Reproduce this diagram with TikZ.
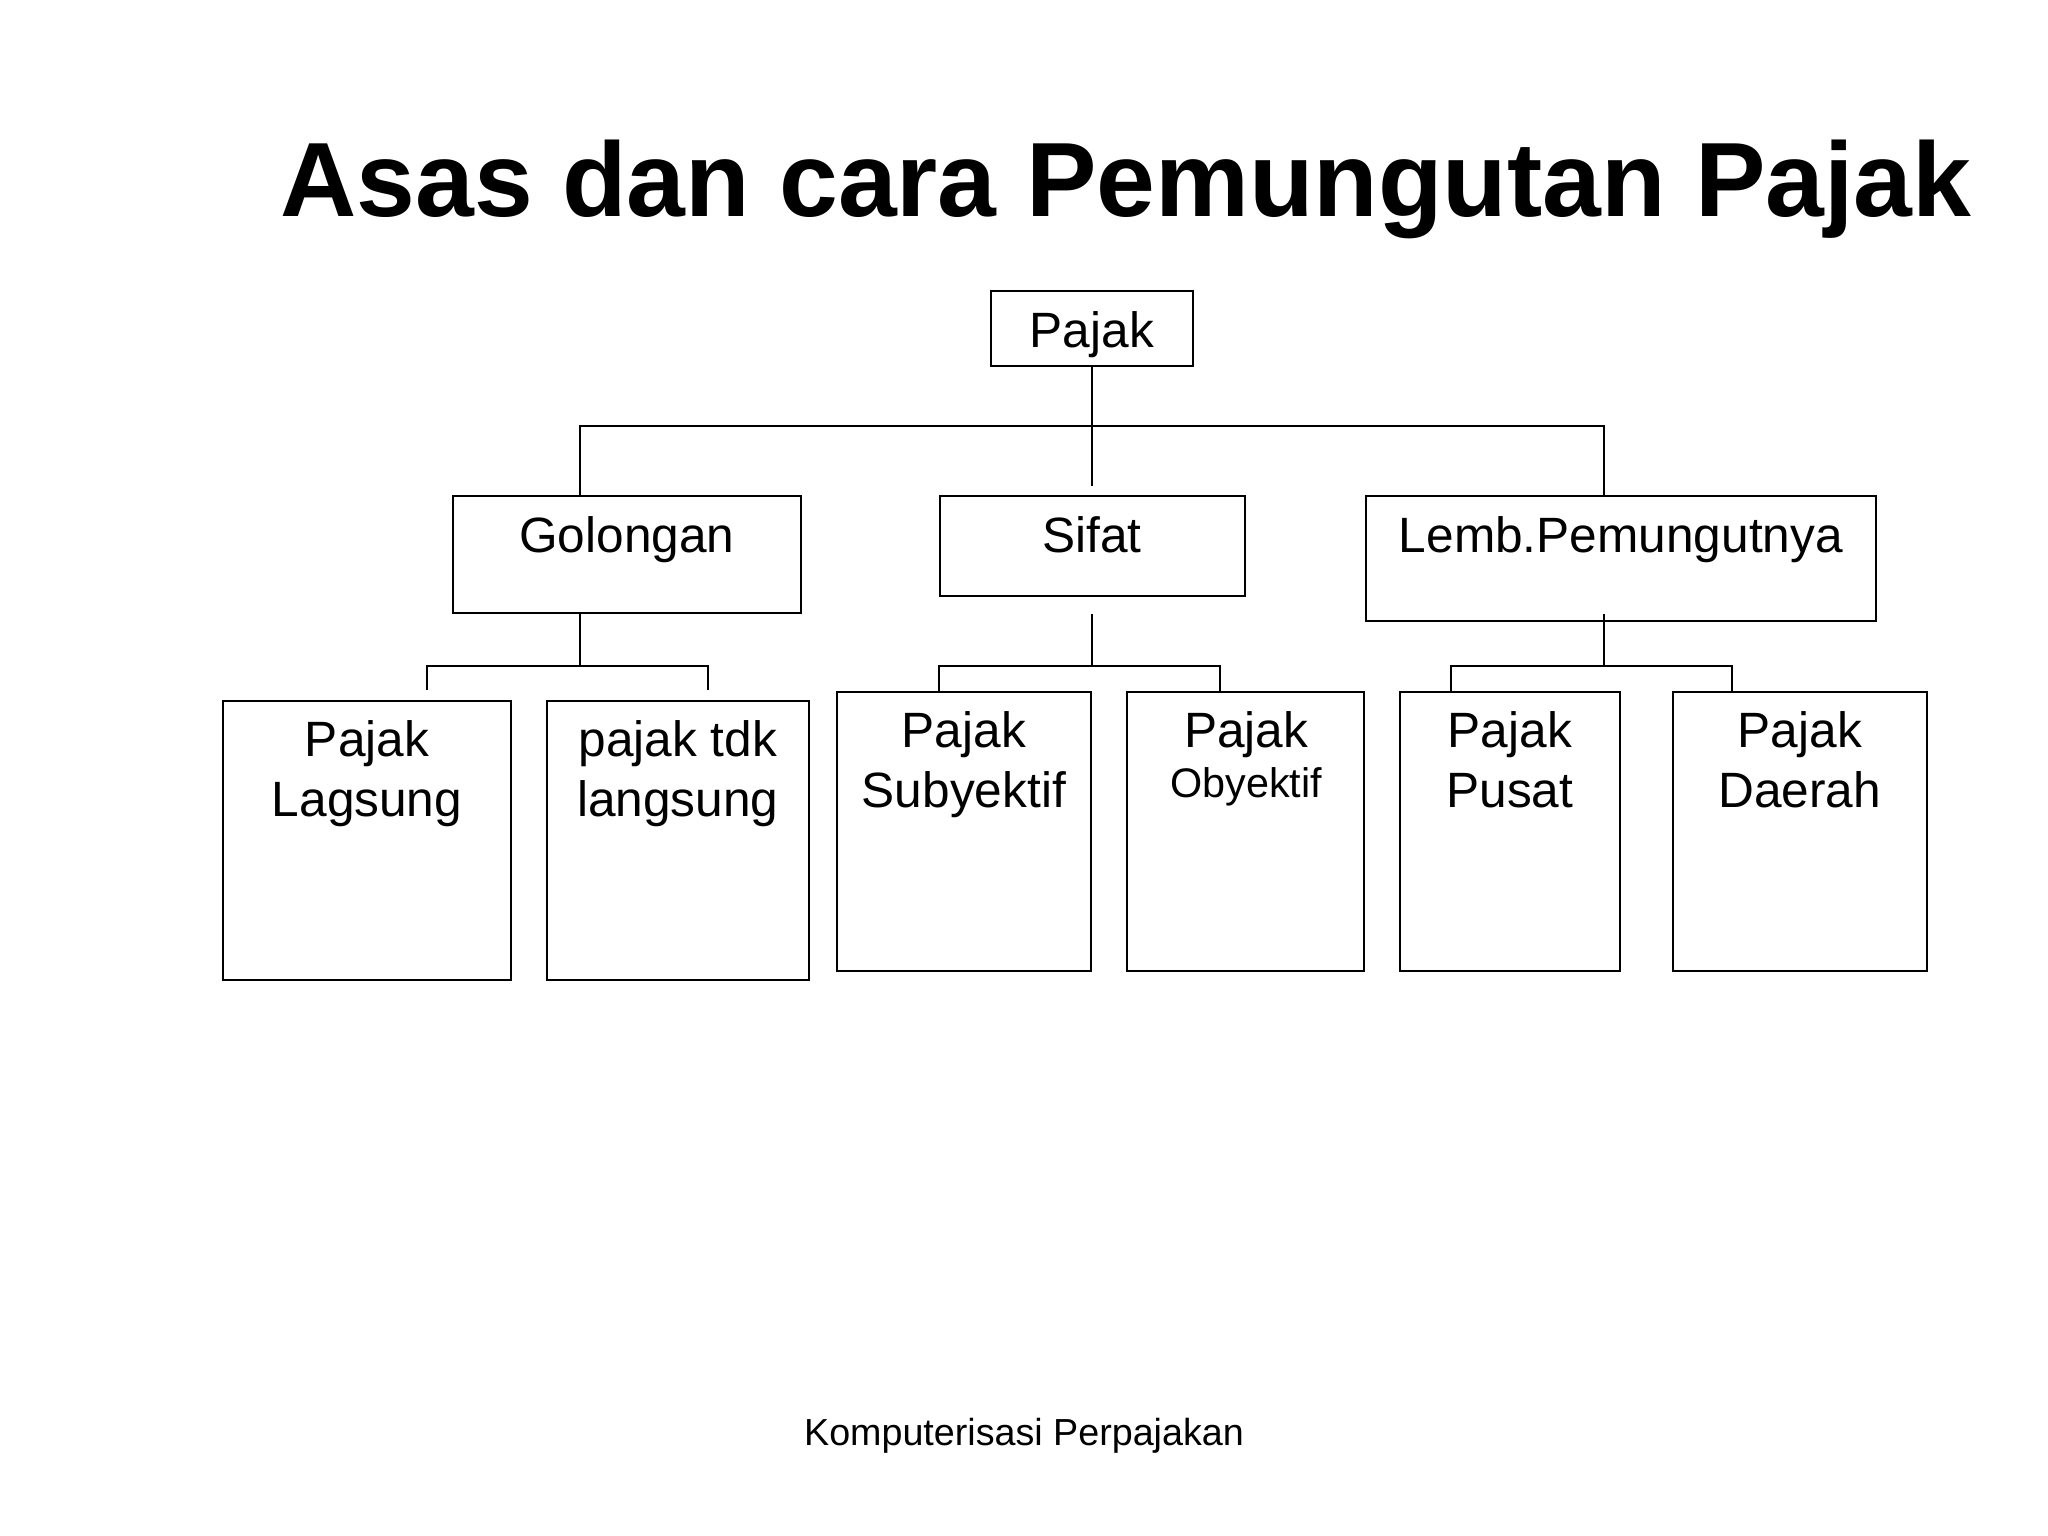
\documentclass[tikz,border=0pt]{standalone}
\usepackage{fontspec}
\setmainfont{Liberation Sans}
\begin{document}
\begin{tikzpicture}[x=0.01cm,y=-0.01cm,
  box/.style={draw,line width=0.4pt,inner sep=0pt},
  lbl/.style={font=\fontsize{10.8pt}{13pt}\selectfont,align=center,anchor=north,inner sep=0pt},
  ln/.style={line width=0.4pt}]
\useasboundingbox (0,0) rectangle (1568,1176);
\node[anchor=base,font=\fontsize{23pt}{27pt}\selectfont\bfseries] (title) at (862,166) {Asas dan cara Pemungutan Pajak};
\node[anchor=base,font=\fontsize{8.2pt}{10pt}\selectfont] (foot) at (784,1107) {Komputerisasi Perpajakan};
% boxes
\newcommand\mybox[5]{\node[box,minimum width=#4*0.01cm-0.4pt,minimum height=#5*0.01cm-0.4pt,anchor=north west] (#1) at (#2,#3) {};}
\mybox{pajak}{758}{222}{156}{59}
\mybox{gol}{346}{379}{268}{91}
\mybox{sif}{719}{379}{235}{78}
\mybox{lem}{1045}{379}{392}{97}
\mybox{c1}{170}{536}{222}{215}
\mybox{c2}{418}{536}{202}{215}
\mybox{c3}{640}{529}{196}{215}
\mybox{c4}{862}{529}{183}{215}
\mybox{c5}{1071}{529}{170}{215}
\mybox{c6}{1280}{529}{196}{215}
% labels
\node[lbl] (tpajak) at (836,238) {Pajak};
\node[lbl] (tgol) at (480,395) {Golongan};
\node[lbl] (tsif) at (836,395) {Sifat};
\node[lbl] (tlem) at (1241,395) {Lemb.Pemungutnya};
\node[lbl] (t1) at (281,551) {Pajak\\Lagsung};
\node[lbl] (t2) at (519,551) {pajak tdk\\langsung};
\node[lbl] (t3) at (738,544) {Pajak\\Subyektif};
\node[lbl,font=\fontsize{10.8pt}{13pt}\selectfont] (t4) at (954,544) {Pajak\\[-2pt]{\fontsize{9pt}{11pt}\selectfont Obyektif}};
\node[lbl] (t5) at (1156,544) {Pajak\\Pusat};
\node[lbl] (t6) at (1378,544) {Pajak\\Daerah};
% connectors
\coordinate (bL) at (444,326); \coordinate (bR) at (1228,326); \coordinate (bM) at (836,326);
\coordinate (mEnd) at (836,372);
\draw[ln] (pajak.south) -- (mEnd);
\draw[ln] (gol.north -| bL) -- (bL) -- (bR) -- (lem.north -| bR);
% golongan
\coordinate (g0) at (444,510);
\draw[ln] (gol.south -| g0) -- (g0);
\draw[ln] (327,528) coordinate (ga) -- (327,510) -- (542,510) -- (542,528) coordinate (gb);
% sifat
\draw[ln] (836,470) coordinate (s0) -- (836,510);
\draw[ln] (719,529) coordinate (sa) -- (719,510) -- (934,510) -- (934,529) coordinate (sb);
% lemb
\draw[ln] (1228,470) coordinate (l0) -- (1228,510);
\draw[ln] (1111,529) coordinate (la) -- (1111,510) -- (1326,510) -- (1326,529) coordinate (lb);
\end{tikzpicture}
\end{document}
